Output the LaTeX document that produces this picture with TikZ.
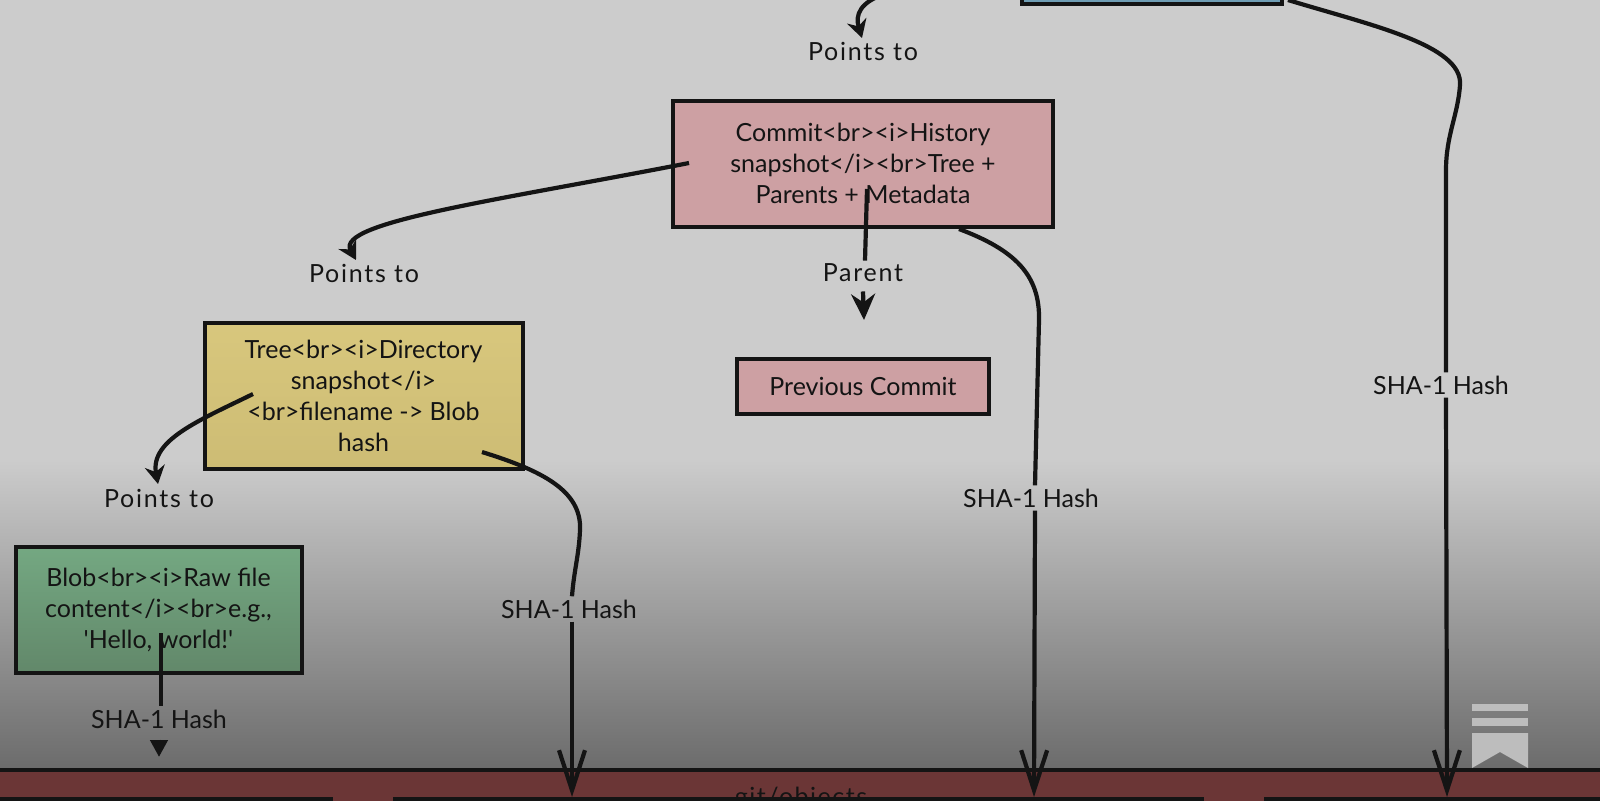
\documentclass[tikz,border=0pt]{standalone}
\usepackage{fontspec}
\setmainfont{Lato}
\usetikzlibrary{arrows.meta}
\definecolor{bgGray}{HTML}{CCCCCC}
\definecolor{ink}{HTML}{141414}
\definecolor{commitRed}{HTML}{CDA0A3}
\definecolor{storeRed}{HTML}{6B3636}

\begin{document}
\begin{tikzpicture}[x=0.5pt,y=-0.5pt,draw=ink,text=ink,font=\fontsize{12.5}{15.5}\selectfont]
        \tikzstyle{box}=[rectangle,draw,line width=2pt,align=center,inner sep=0pt]
        \tikzstyle{commit box}=[box,fill=commitRed]
        \tikzstyle{edge label}=[inner sep=1.5pt]
        \tikzstyle{wide label}=[edge label,execute at begin node={\addfontfeatures{LetterSpace=7}}]
        \tikzstyle{flow}=[line width=2.1pt]
        \tikzstyle{small head}=[flow,-{Stealth[length=9pt,width=10pt]}]
        \tikzstyle{solid head}=[flow,-{Stealth[length=13pt,width=12pt]}]
        \tikzstyle{barb head}=[flow,-{Straight Barb[length=20pt,width=13pt]}]

        \useasboundingbox (0,0) rectangle (1600,800);

        % Background and store bar
        \fill[bgGray] (0,0) rectangle (1600,462);
        \shade[top color=bgGray,bottom color=black!58] (0,460) rectangle (1600,771);
        \draw[fill=storeRed,line width=1.6pt] (-10,770) rectangle (1610,820);
        \foreach \xa/\xb in {-10/333,393/1204,1264/1610}
            \draw[line width=2pt] (\xa,799) -- (\xb,799);
        \node[inner sep=0pt,execute at begin node={\addfontfeatures{LetterSpace=6}}] (store) at (801,799) {git/objects};

        % Object boxes
        \node[box,fill={rgb,255:red,111;green,157;blue,180},minimum width=130pt,minimum height=30pt] (ref) at (1152,-26) {};
        \node[commit box,minimum width=190pt,minimum height=63pt] (commit) at (863,163.5) {Commit<br><i>History\\snapshot</i><br>Tree +\\Parents + Metadata};
        \node[commit box,minimum width=126pt,minimum height=27.5pt] (prev) at (863,386.5) {Previous Commit};
        \node[box,top color={rgb,255:red,216;green,199;blue,125},bottom color={rgb,255:red,205;green,188;blue,116},minimum width=159pt,minimum height=73pt] (tree) at (363.5,396) {Tree<br><i>Directory\\snapshot</i>\\<br>filename -> Blob\\hash};
        \node[box,top color={rgb,255:red,116;green,168;blue,130},bottom color={rgb,255:red,98;green,136;blue,106},minimum width=143pt,minimum height=63pt] (blob) at (158.5,609.5) {Blob<br><i>Raw file\\content</i><br>e.g.,\\\textquotesingle Hello, world!\textquotesingle};

        % Edge labels
        \node[wide label] (pointsTop) at (863,51) {Points to};
        \node[wide label] (pointsTree) at (364,273) {Points to};
        \node[wide label] (pointsBlob) at (159,498) {Points to};
        \node[wide label] (parent) at (863,273) {Parent};
        \node[edge label] (shaRef) at (1441,385) {SHA-1 Hash};
        \node[edge label] (shaCommit) at (1031,498) {SHA-1 Hash};
        \node[edge label] (shaTree) at (569,609) {SHA-1 Hash};
        \node[edge label] (shaBlob) at (159,719) {SHA-1 Hash};

        % Free ends of the connectors
        \coordinate (refIn) at (885,-6);
        \coordinate (refOut) at (1288,0);
        \coordinate (commitLeft) at (689,163);
        \coordinate (commitMid) at (867,189);
        \coordinate (commitRight) at (959,229);
        \coordinate (treeLeft) at (253,394);
        \coordinate (treeRight) at (482,452);
        \coordinate (blobMid) at (161,633);
        \coordinate (headTop) at (862,38);
        \coordinate (headTree) at (356,260);
        \coordinate (headBlob) at (158,484);
        \coordinate (headParent) at (864,320);
        \coordinate (headBlobSha) at (159,757);
        \foreach \name/\x in {Tree/572,Commit/1034,Ref/1447}
            \coordinate (store\name) at (\x,797);

        % Points to
        \draw[small head] (refIn) .. controls (860,2) and (855,15) .. (headTop);
        \draw[small head] (commitLeft) .. controls (500,200) and (335,222) .. (headTree);
        \draw[small head] (treeLeft) .. controls (200,420) and (150,440) .. (headBlob);

        % Parent
        \draw[flow] (commitMid) -- ([xshift=1pt]parent.north);
        \draw[solid head] ([yshift=-3pt]parent.south) -- (headParent);

        % SHA-1 Hash into the store
        \draw[flow] (blobMid) -- ([xshift=1pt]shaBlob.north);
        \draw[flow,-{Triangle[length=8.5pt,width=8.5pt]}] ([yshift=-4pt]shaBlob.south) -- (headBlobSha);
        \draw[flow] (treeRight) .. controls (540,470) and (582,490) .. (580,530) .. controls (579,555) and (574,570) .. ([xshift=1.5pt]shaTree.north);
        \draw[barb head] ([xshift=1.5pt]shaTree.south) -- (storeTree);
        \draw[flow] (commitRight) .. controls (1015,250) and (1040,275) .. (1039,320) -- ([xshift=2pt]shaCommit.north);
        \draw[barb head] ([xshift=2pt]shaCommit.south) -- (storeCommit);
        \draw[flow] (refOut) .. controls (1370,25) and (1463,45) .. (1460,85) .. controls (1458,115) and (1446,135) .. (1446,170) -- ([xshift=2.5pt]shaRef.north);
        \draw[barb head] ([xshift=2.5pt]shaRef.south) -- (storeRef);

        % Corner mark
        \fill[black!26] (1472,704) rectangle (1528,711);
        \fill[black!26] (1472,718) rectangle (1528,726);
        \fill[black!26] (1472,733) -- (1528,733) -- (1528,768) -- (1500,752) -- (1472,768) -- cycle;
    \end{tikzpicture}
\end{document}
